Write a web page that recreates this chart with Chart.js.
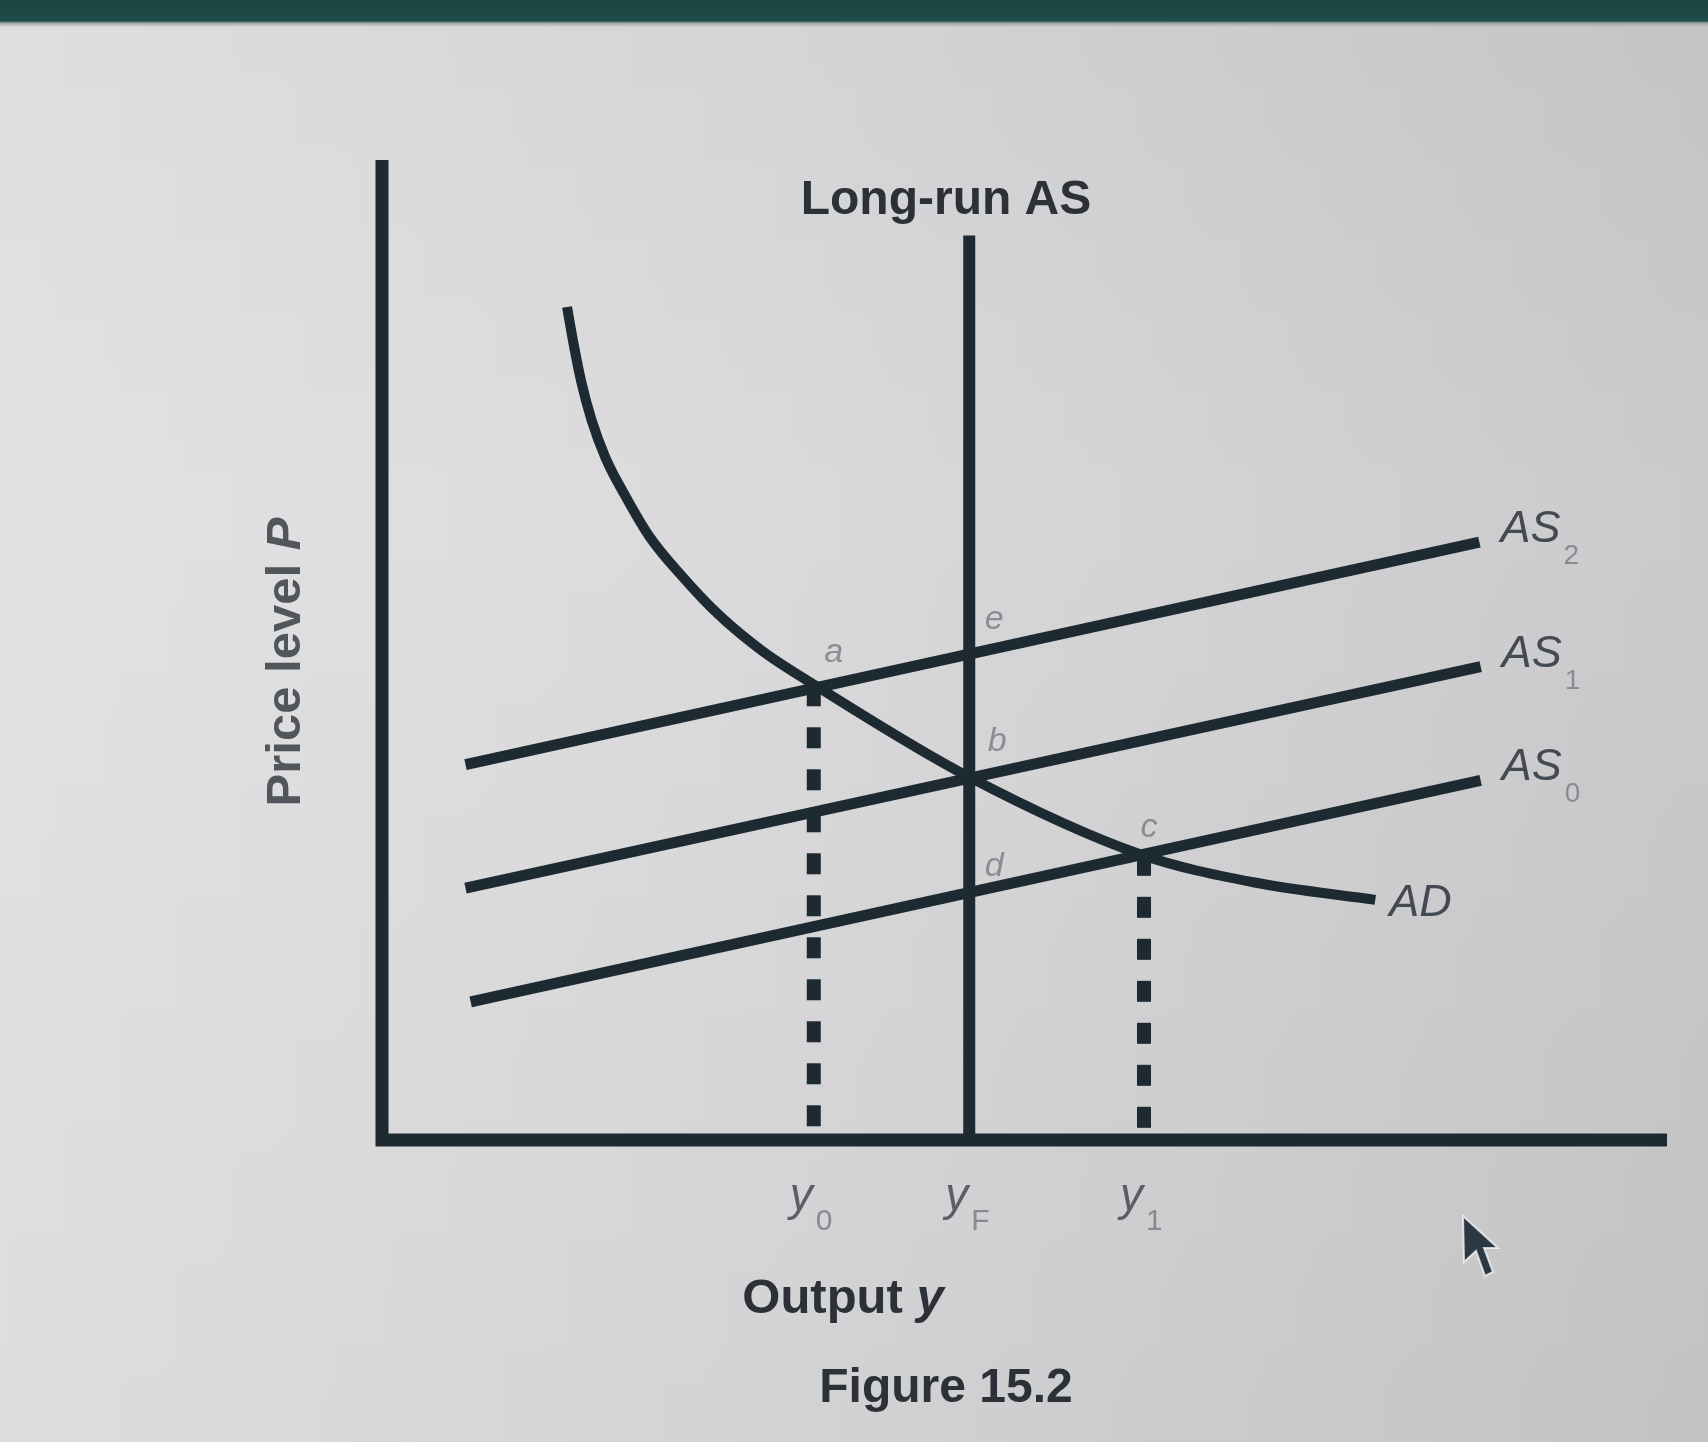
<!DOCTYPE html>
<html>
<head>
<meta charset="utf-8">
<title>Figure 15.2</title>
<script src="https://cdn.jsdelivr.net/npm/chart.js@4.4.1/dist/chart.umd.min.js"></script>
<style>
  html, body { margin: 0; padding: 0; overflow: hidden; }
  body {
    width: 1708px;
    height: 1442px;
    background:
      linear-gradient(to bottom, #1a4543 0px, #1f4c4a 21px, #9aa3a2 23px, rgba(0,0,0,0) 27px),
      linear-gradient(to right, rgba(255,255,255,0.32) 0%, rgba(255,255,255,0.12) 45%, rgba(0,0,0,0.05) 100%),
      linear-gradient(to bottom, rgba(0,0,0,0.03), rgba(0,0,0,0) 35%, rgba(0,0,0,0.04)),
      #d5d5d7;
  }
  #chart { display: block; }
</style>
</head>
<body>
<canvas id="chart" width="1708" height="1442"></canvas>
<script>
// aggregate demand curve
const adX = [14.4, 14.9, 15.5, 16.3, 17.4, 18.9, 20.8, 23.3, 26.2, 29.6, 33.7, 45.6, 59.1, 67.8, 77.3];
const adY = [85.0, 81.3, 77.4, 73.5, 69.6, 65.8, 61.6, 57.6, 53.6, 49.9, 46.4, 37.1, 29.1, 26.3, 24.5];

// short-run AS lines (end points)
const as0X = [6.9, 85.5];
const as0Y = [14.1, 36.7];
const as1X = [6.5, 85.5];
const as1Y = [25.7, 48.3];
const as2X = [6.5, 85.4];
const as2Y = [38.3, 61.0];

// long-run AS and axes
const lrasX = [45.7, 45.7];
const lrasY = [0, 92.3];
const axisX = [0, 0, 100];
const axisY = [100, 0, 0];

// output levels on the x axis
const tickValues = [33.6, 45.7, 59.3];
const tickNames = ["y", "y", "y"];
const tickSubs = ["0", "F", "1"];

// equilibrium points
const pointNames = ["a", "e", "b", "d", "c"];
const pointX = [33.6, 45.7, 45.7, 45.7, 59.3];
const pointY = [46.4, 49.6, 37.0, 25.3, 29.1];

const curveNames = ["AS", "AS", "AS", "AD"];
const curveSubs = ["2", "1", "0", ""];

const ink = "#1e2a31";
const toPoints = (xs, ys) => xs.map((x, i) => ({ x: x, y: ys[i] }));

const lineSet = (xs, ys, width, extra) =>
  Object.assign(
    {
      data: toPoints(xs, ys),
      showLine: true,
      borderColor: ink,
      borderWidth: width,
      pointRadius: 0,
      borderCapStyle: "butt",
      fill: false,
      clip: false
    },
    extra || {}
  );

const sub = (ctx, main, s, x, y, mainFont, subFont, mainColor, subColor, drop) => {
  ctx.font = mainFont;
  ctx.fillStyle = mainColor;
  ctx.textAlign = "left";
  ctx.fillText(main, x, y);
  const w = ctx.measureText(main).width;
  if (s) {
    ctx.font = subFont;
    ctx.fillStyle = subColor;
    ctx.fillText(s, x + w + 3, y + drop);
  }
};

const textPlugin = {
  id: "figureText",
  afterDraw(chart) {
    const ctx = chart.ctx;
    const sx = chart.scales.x;
    const sy = chart.scales.y;
    const px = v => sx.getPixelForValue(v);
    const py = v => sy.getPixelForValue(v);
    const base = py(0);
    const fam = '"Liberation Sans", Arial, Helvetica, sans-serif';
    ctx.save();
    ctx.textBaseline = "alphabetic";

    // headings
    ctx.fillStyle = "#2b3137";
    ctx.textAlign = "center";
    ctx.font = "bold 48px " + fam;
    ctx.fillText("Long-run AS", 946, 214);
    ctx.fillText("Figure 15.2", 946, 1402);

    ctx.font = "bold 49px " + fam;
    const w1 = ctx.measureText("Output ").width;
    ctx.font = "italic bold 49px " + fam;
    const w2 = ctx.measureText("y").width;
    let left = 843 - (w1 + w2) / 2;
    ctx.textAlign = "left";
    ctx.font = "bold 49px " + fam;
    ctx.fillText("Output ", left, 1313);
    ctx.font = "italic bold 49px " + fam;
    ctx.fillText("y", left + w1, 1313);

    // y axis title
    ctx.save();
    ctx.translate(300, 662);
    ctx.rotate(-Math.PI / 2);
    ctx.fillStyle = "#50565c";
    ctx.font = "bold 49px " + fam;
    const w3 = ctx.measureText("Price level ").width;
    ctx.font = "italic bold 49px " + fam;
    const w4 = ctx.measureText("P").width;
    left = -(w3 + w4) / 2;
    ctx.font = "bold 49px " + fam;
    ctx.fillText("Price level ", left, 0);
    ctx.font = "italic bold 49px " + fam;
    ctx.fillText("P", left + w3, 0);
    ctx.restore();

    // x tick labels
    tickValues.forEach((v, i) => {
      sub(ctx, tickNames[i], tickSubs[i], px(v) - 24, base + 70,
        "italic 46px " + fam, "30px " + fam, "#5a5f65", "#878b91", 20);
    });

    // curve labels at the right ends
    const ends = [
      [as2X[1], as2Y[1]],
      [as1X[1], as1Y[1]],
      [as0X[1], as0Y[1]],
      [adX[adX.length - 1], adY[adY.length - 1]]
    ];
    ends.forEach((e, i) => {
      const isAD = curveNames[i] === "AD";
      sub(ctx, curveNames[i], curveSubs[i], px(e[0]) + (isAD ? 14 : 21), py(e[1]) + (isAD ? 16 : 0),
        "italic 45px " + fam, "28px " + fam, "#444a51", "#888c92", 22);
    });

    // point letters
    const offs = [[20, -33], [25, -34], [28, -36], [25, -26], [5, -27]];
    ctx.textAlign = "center";
    ctx.textBaseline = "middle";
    ctx.font = "italic 34px " + fam;
    ctx.fillStyle = "#8a8e93";
    pointNames.forEach((n, i) => {
      ctx.fillText(n, px(pointX[i]) + offs[i][0], py(pointY[i]) + offs[i][1]);
    });

    // mouse pointer in the photo
    ctx.beginPath();
    ctx.moveTo(1463, 1216);
    ctx.lineTo(1464, 1262);
    ctx.lineTo(1476, 1251);
    ctx.lineTo(1485, 1276);
    ctx.lineTo(1493, 1272);
    ctx.lineTo(1484, 1248);
    ctx.lineTo(1498, 1248);
    ctx.closePath();
    ctx.fillStyle = "#2c3944";
    ctx.strokeStyle = "rgba(245,245,245,0.8)";
    ctx.lineWidth = 2;
    ctx.fill();
    ctx.stroke();
    ctx.restore();
  }
};

new Chart(document.getElementById("chart"), {
  type: "scatter",
  data: {
    datasets: [
      lineSet(axisX, axisY, 13, { borderJoinStyle: "miter" }),
      lineSet(lrasX, lrasY, 12),
      lineSet(adX, adY, 10, { cubicInterpolationMode: "monotone" }),
      lineSet(as2X, as2Y, 11),
      lineSet(as1X, as1Y, 11),
      lineSet(as0X, as0Y, 11),
      lineSet([tickValues[0], tickValues[0]], [pointY[0], 0], 14, { borderDash: [21, 21] }),
      lineSet([tickValues[2], tickValues[2]], [pointY[4], 0], 14, { borderDash: [21, 21] })
    ]
  },
  options: {
    responsive: false,
    animation: false,
    events: [],
    layout: {
      padding: { left: 382, right: 41, top: 160, bottom: 302 }
    },
    plugins: {
      legend: { display: false },
      tooltip: { enabled: false }
    },
    scales: {
      x: { type: "linear", min: 0, max: 100, display: false },
      y: { type: "linear", min: 0, max: 100, display: false }
    }
  },
  plugins: [textPlugin]
});
</script>
</body>
</html>
